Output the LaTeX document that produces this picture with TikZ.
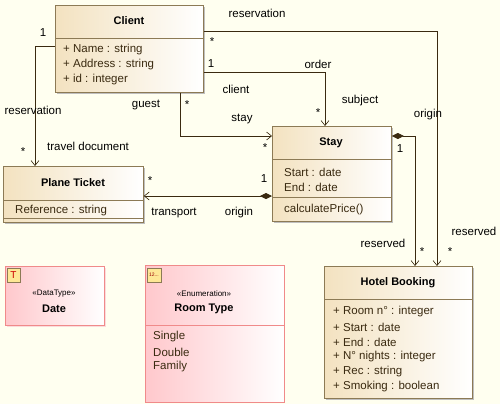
\documentclass[tikz,border=0pt]{standalone}
\usepackage{fontspec}
\setmainfont{Liberation Sans}
\usetikzlibrary{arrows.meta}
\definecolor{bg}{HTML}{FFFFF0}
\definecolor{bord}{HTML}{8C7A55}
\definecolor{beige}{HTML}{F3E2C0}
\definecolor{pinkb}{HTML}{F08A8A}
\definecolor{pinkf}{HTML}{FFC8CC}
\definecolor{ink}{HTML}{3A2A10}
\begin{document}
\begin{tikzpicture}[x=1pt,y=-1pt,
  font=\fontsize{11.5}{13}\selectfont,
  cls/.style={draw=bord,line width=0.8pt,left color=beige,right color=white,inner sep=0,anchor=north west},
  ent/.style={draw=pinkb,line width=0.8pt,left color=pinkf,right color=white,inner sep=0,anchor=north west},
  sh/.style={fill=black!25,draw=none},
  dv/.style={draw=bord,line width=0.8pt},
  dvp/.style={draw=pinkb,line width=0.8pt},
  ttl/.style={font=\fontsize{11}{13}\selectfont\bfseries,inner sep=0},
  att/.style={anchor=west,inner sep=0,text=ink},
  lb/.style={inner sep=0},
  as/.style={draw=ink,line width=0.6pt,-{Straight Barb[length=5pt,width=8pt]}},
  cmp/.style={draw=ink,line width=0.6pt,{Diamond[length=12pt,width=6pt,fill=ink]}-{Straight Barb[length=5pt,width=8pt]}}]
\useasboundingbox (0,0) rectangle (500,404);
\fill[bg] (0,0) rectangle (500,404);
% shadows
\fill[sh] (57,7) rectangle (205,94);
\fill[sh] (5,168) rectangle (145,224);
\fill[sh] (274,128) rectangle (393,223);
\fill[sh] (326,268) rectangle (474,400);
\fill[pinkb!30] (7,268) rectangle (106,327);
% boxes
\node[cls,minimum width=148,minimum height=87] (client) at (55,5) {};
\draw[dv] (55,38) -- (203,38);
\node[ttl] at (129,21) {Client};
\node[att] at (63,50) {+ Name : string};
\node[att] at (63,65) {+ Address : string};
\node[att] at (63,80) {+ id : integer};
\node[cls,minimum width=140,minimum height=56] (ticket) at (3,166) {};
\draw[dv] (3,200) -- (143,200);
\draw[dv] (3,218) -- (143,218);
\node[ttl] at (73,183) {Plane Ticket};
\node[att] at (15,211) {Reference : string};
\node[cls,minimum width=119,minimum height=95] (stay) at (272,126) {};
\draw[dv] (272,159) -- (391,159);
\draw[dv] (272,197) -- (391,197);
\node[ttl] at (331,143) {Stay};
\node[att] at (284,172) {Start : date};
\node[att] at (284,187) {End : date};
\node[att] at (284,210) {calculatePrice()};
\node[cls,minimum width=148,minimum height=132] (hotel) at (324,266) {};
\draw[dv] (324,299) -- (472,299);
\node[ttl] at (398,283) {Hotel Booking};
\node[att] at (333,312) {+ Room n° : integer};
\node[att] at (333,327) {+ Start : date};
\node[att] at (333,342) {+ End : date};
\node[att] at (333,357) {+ N° nights : integer};
\node[att] at (333,372) {+ Rec : string};
\node[att] at (333,387) {+ Smoking : boolean};
\node[ent,minimum width=99,minimum height=59] (date) at (5,266) {};
\draw[draw=bord,fill=yellow!60!orange!40] (7,268) rectangle (20,282);
\node[lb,text=red!80!black,font=\fontsize{10}{10}\selectfont] at (13.5,275) {T};
\node[lb,font=\fontsize{8}{9}\selectfont] at (54,294) {<<DataType>>};
\node[ttl] at (54,309) {Date};
\node[ent,minimum width=139,minimum height=137] (room) at (145,265) {};
\draw[dvp] (145,325) -- (284,325);
\draw[draw=bord,fill=yellow!60!orange!40] (147,268) rectangle (161,282);
\node[lb,text=red!60!black,font=\fontsize{5}{6}\selectfont] at (154,275) {12...};
\node[lb,font=\fontsize{8}{9}\selectfont] at (204,294) {<<Enumeration>>};
\node[ttl] at (204,309) {Room Type};
\node[att] at (153,337) {Single};
\node[att] at (153,352) {Double};
\node[att] at (153,367) {Family};
% connectors
\draw[as] (client.west |- 0,46) -- (35,46) -- (ticket.north -| 35,0);
\draw[as] (client.east |- 0,31) -- (437,31) -- (hotel.north -| 437,0);
\draw[as] (client.east |- 0,72) -- (325,72) -- (stay.north -| 325,0);
\draw[as] (client.south -| 180,0) -- (180,136) -- (stay.west |- 0,136);
\draw[cmp] (stay.west |- 0,196) -- (ticket.east |- 0,196);
\draw[cmp] (stay.east |- 0,136) -- (415,136) -- (hotel.north -| 415,0);
% labels
\node[lb] at (43,33) {1};
\node[lb] at (33,110) {reservation};
\node[lb] at (23,152) {*};
\node[lb] at (88,146) {travel document};
\node[lb] at (257,13) {reservation};
\node[lb] at (212,42) {*};
\node[lb] at (428,115) {origin};
\node[lb] at (450,252) {*};
\node[lb] at (474,231) {reserved};
\node[lb] at (211,64) {1};
\node[lb] at (318,64) {order};
\node[lb] at (236,89) {client};
\node[lb] at (360,101) {subject};
\node[lb] at (318,113) {*};
\node[lb] at (146,105) {guest};
\node[lb] at (187,105) {*};
\node[lb] at (242,119) {stay};
\node[lb] at (265,148) {*};
\node[lb] at (264,179) {1};
\node[lb] at (150,181) {*};
\node[lb] at (174,213) {transport};
\node[lb] at (239,213) {origin};
\node[lb] at (400,149) {1};
\node[lb] at (383,243) {reserved};
\node[lb] at (422,252) {*};
\end{tikzpicture}
\end{document}
